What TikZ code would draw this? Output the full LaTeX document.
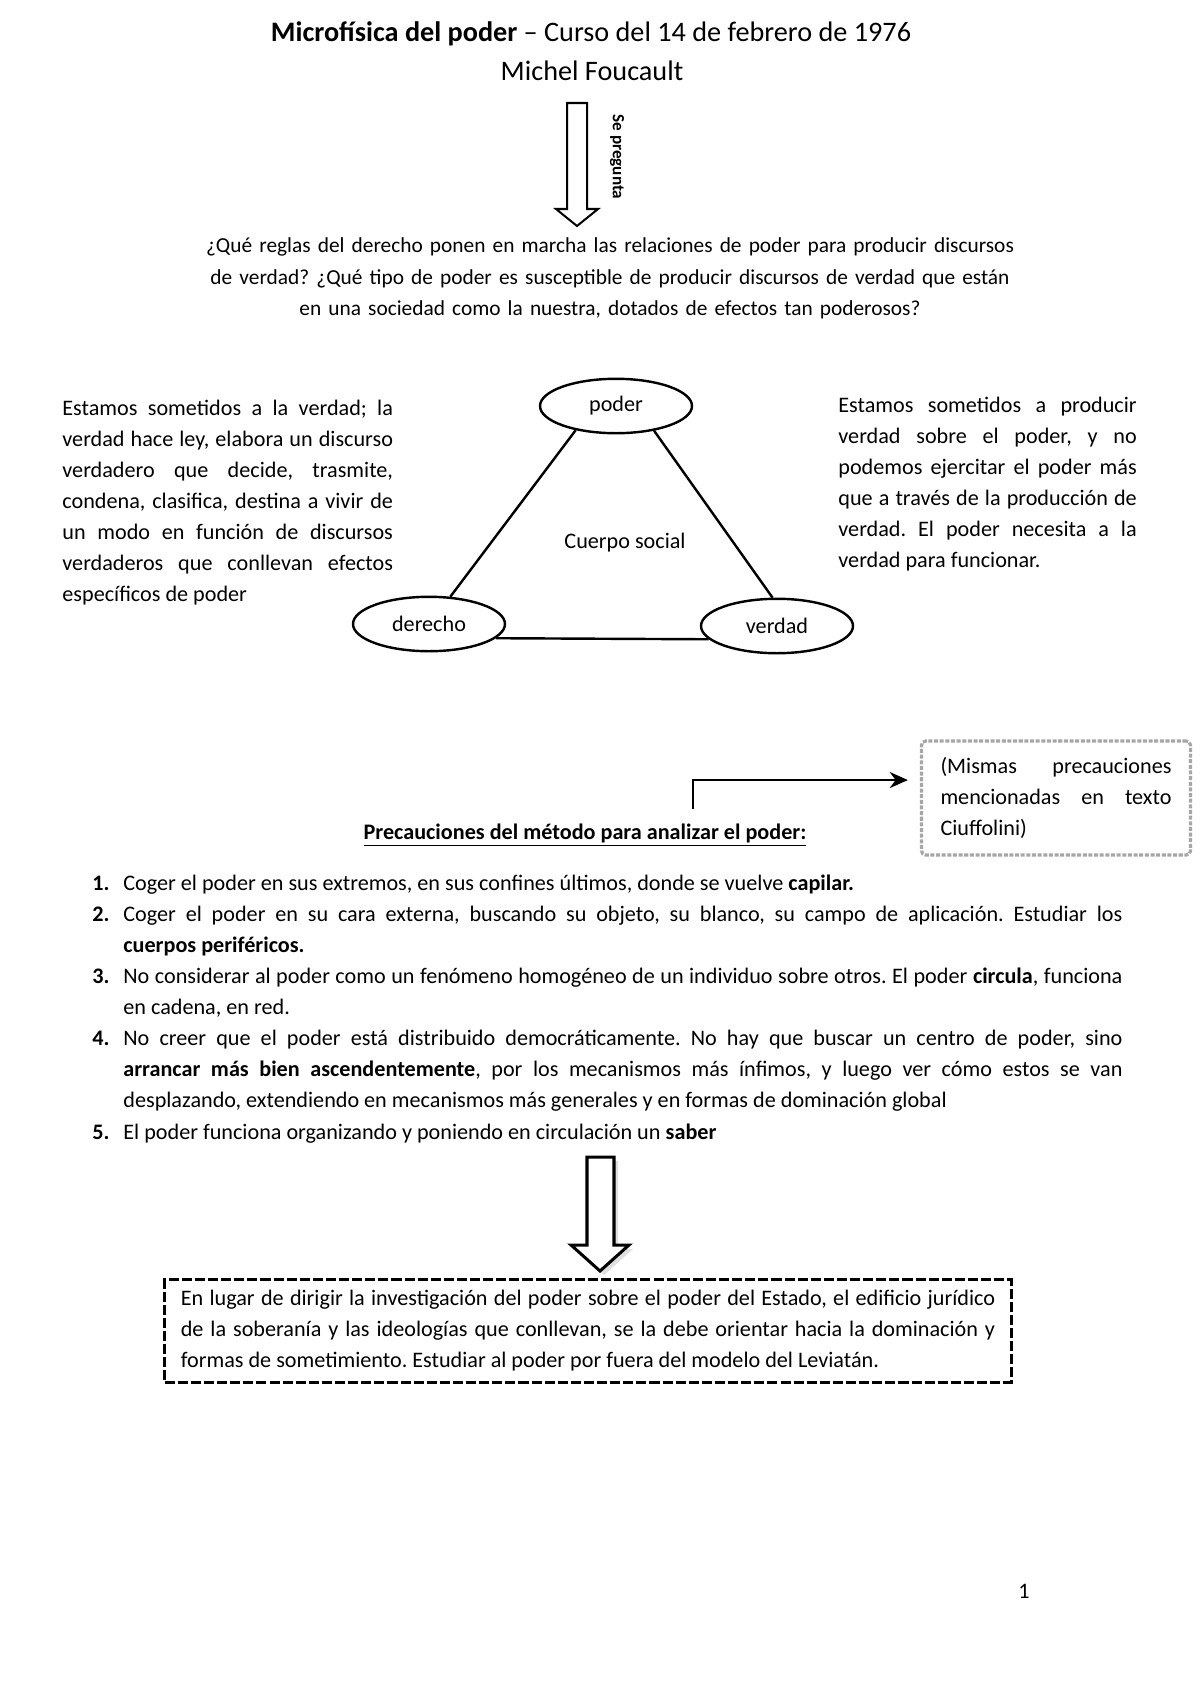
\documentclass[tikz,border=0pt]{standalone}
\usepackage{fontspec}
\setmainfont{Carlito}
\usetikzlibrary{arrows.meta,shapes.geometric,positioning,shadows}

\begin{document}
\frenchspacing
\begin{tikzpicture}[x=0.4961pt,y=-0.4961pt,>={Stealth[length=9pt,width=8pt]},
  base text/.style={font=\fontsize{11}{15.4}\selectfont,inner sep=0pt},
  oval node/.style={ellipse,draw,line width=1.2pt,minimum width=75.4pt,minimum height=27pt,inner sep=0pt,base text},
  side text/.style={base text,text width=#1,align=justify,anchor=base west},
  item text/.style={base text,text width=495.6pt,align=justify,anchor=base west},
  hollow arrow/.style={draw,fill=white,line width=1pt,line join=miter}]

  \useasboundingbox (0,0) rectangle (1200,1696);

  \node[base text,font=\fontsize{14}{17}\selectfont,anchor=base] (title) at (591,42) {\textbf{Microfísica del poder} – Curso del 14 de febrero de 1976};
  \node[base text,font=\fontsize{14}{17}\selectfont,anchor=base] (author) at (592,81) {Michel Foucault};

  \draw[hollow arrow] (567,103) -- (587,103) -- (587,209) -- (598,209) -- (577,226) -- (556,209) -- (567,209) -- cycle;
  \node[rotate=-90,font=\bfseries\fontsize{8.5}{10}\selectfont,inner sep=0pt] (ask) at (617,157) {Se pregunta};

  \node[base text,font=\fontsize{10.6}{15.4}\selectfont,text width=420pt,align=center,anchor=base] (question) at (610,253) {¿Qué reglas del derecho ponen en marcha las relaciones de poder para producir discursos\\ de verdad? ¿Qué tipo de poder es susceptible de producir discursos de verdad que están\\ en una sociedad como la nuestra, dotados de efectos tan poderosos?};

  \node[side text=164pt] (left) at (62,415) {Estamos sometidos a la verdad; la\linebreak verdad hace ley, elabora un discurso\linebreak verdadero que decide, trasmite,\linebreak condena, clasifica, destina a vivir de\linebreak un modo en función de discursos\linebreak verdaderos que conllevan efectos\linebreak específicos de poder};
  \node[side text=148pt] (right) at (838,412) {Estamos sometidos a producir\linebreak verdad sobre el poder, y no\linebreak podemos ejercitar el poder más\linebreak que a través de la producción de\linebreak verdad. El poder necesita a la\linebreak verdad para funcionar.};

  \node[oval node] (1) at (616,406) {poder};
  \node[oval node] (2) at (429,624) {derecho};
  \node[oval node] (3) at (777,626) {verdad};
  \node[base text] (social) at (625,543) {Cuerpo social};

  \path[line width=1.2pt]
    (1.211) edge (2.52)
    (1.-33) edge (3.99)
    (2.-12) edge (3.191);

  \node[base text,draw=gray!70,line width=1.6pt,dash pattern=on 2pt off 0.8pt,rounded corners=2pt,
    text width=114.6pt,inner xsep=9.4pt,minimum height=56.5pt,align=justify] (note) at (1056,798)
    {(Mismas precauciones\linebreak mencionadas en texto\linebreak Ciuffolini)};
  \coordinate (hook) at (693,809);
  \draw[->,line width=1pt] (hook) |- ([xshift=-6pt,yshift=8.9pt]note.west);

  \node[base text,anchor=base] (method) at (585,839) {\underline{\textbf{Precauciones del método para analizar el poder:}}};

  \node[base text,anchor=base west] (n1) at (92,890) {\textbf{1.}};
  \node[base text,anchor=base west] (n2) at (92,921) {\textbf{2.}};
  \node[base text,anchor=base west] (n3) at (92,983) {\textbf{3.}};
  \node[base text,anchor=base west] (n4) at (92,1045) {\textbf{4.}};
  \node[base text,anchor=base west] (n5) at (92,1139) {\textbf{5.}};

  \node[item text] (i1) at (123,890) {Coger el poder en sus extremos, en sus confines últimos, donde se vuelve \textbf{capilar.}};
  \node[item text] (i2) at (123,921) {Coger el poder en su cara externa, buscando su objeto, su blanco, su campo de aplicación. Estudiar los\linebreak \textbf{cuerpos periféricos.}};
  \node[item text] (i3) at (123,983) {No considerar al poder como un fenómeno homogéneo de un individuo sobre otros. El poder \textbf{circula}, funciona\linebreak en cadena, en red.};
  \node[item text] (i4) at (123,1045) {No creer que el poder está distribuido democráticamente. No hay que buscar un centro de poder, sino\linebreak \textbf{arrancar más bien ascendentemente}, por los mecanismos más ínfimos, y luego ver cómo estos se van\linebreak desplazando, extendiendo en mecanismos más generales y en formas de dominación global};
  \node[item text] (i5) at (123,1139) {El poder funciona organizando y poniendo en circulación un \textbf{saber}};

  \draw[hollow arrow,line width=1.5pt,drop shadow={opacity=0.25,shadow xshift=2pt,shadow yshift=-2pt}]
    (587,1157) -- (614,1157) -- (614,1245) -- (629,1245) -- (600,1271) -- (571,1245) -- (587,1245) -- cycle;

  \node[base text,draw,line width=1.5pt,dash pattern=on 5pt off 1.5pt,text width=404pt,inner xsep=8pt,
    minimum height=51pt,align=justify] (summary) at (588,1331)
    {En lugar de dirigir la investigación del poder sobre el poder del Estado, el edificio jurídico\linebreak de la soberanía y las ideologías que conllevan, se la debe orientar hacia la dominación y\linebreak formas de sometimiento. Estudiar al poder por fuera del modelo del Leviatán.};

  \node[base text,anchor=base] (page) at (1024,1598) {1};
\end{tikzpicture}
\end{document}
